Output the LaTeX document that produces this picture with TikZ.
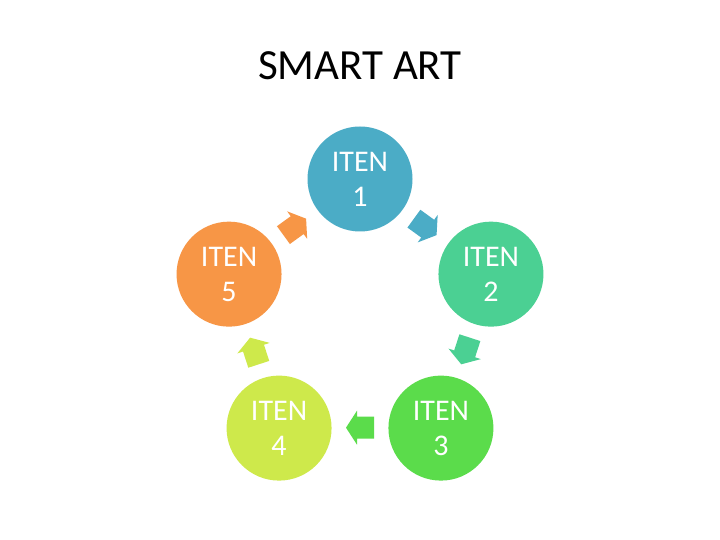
\documentclass[tikz,border=0pt]{standalone}
\usepackage{fontspec}
\setmainfont{Carlito}
\usetikzlibrary{calc}
\definecolor{cA}{HTML}{4BACC6}
\definecolor{cB}{HTML}{4BD093}
\definecolor{cC}{HTML}{5BDC4B}
\definecolor{cD}{HTML}{CEE94B}
\definecolor{cE}{HTML}{F79646}
\begin{document}
\begin{tikzpicture}[x=1pt,y=1pt,
  item/.style={circle,fill=#1,draw=none,minimum size=105pt,inner sep=0pt,
    align=center,text=white,font=\fontsize{30}{35}\selectfont},
  blockarrow/.style={fill=#1,draw=none}]
\useasboundingbox[fill=white] (0,0) rectangle (720,540);
\coordinate (C) at (360,223.3);
\node[anchor=base,font=\fontsize{43}{46}\selectfont] (title) at (360,460) {SMART ART};
\node[item=cA] (n1) at ($(C)+(90:137.7)$) {ITEN\\1};
\node[item=cB] (n2) at ($(C)+(18:137.7)$) {ITEN\\2};
\node[item=cC] (n3) at ($(C)+(-54:137.7)$) {ITEN\\3};
\node[item=cD] (n4) at ($(C)+(-126:137.7)$) {ITEN\\4};
\node[item=cE] (n5) at ($(C)+(162:137.7)$) {ITEN\\5};
\foreach \a/\c in {54/cA,-18/cB,-90/cC,-162/cD,126/cE}{
  \coordinate (arr\a) at ($(C)+(\a:111)$);
  \fill[blockarrow=\c,shift={(arr\a)},rotate=\a-90]
    (-14,-11) -- (3,-11) -- (3,-17) -- (14,0) -- (3,17) -- (3,11) -- (-14,11) -- cycle;
}
\end{tikzpicture}
\end{document}
